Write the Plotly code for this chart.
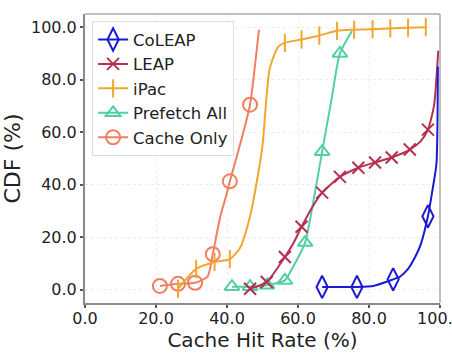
import plotly.graph_objects as go

# ---- data ----
coleap_x = [66.8, 71.5, 76.6, 81.5, 86.8, 88.7, 91.0, 93.0, 94.5, 96.6, 98.0, 99.0, 99.4]
coleap_y = [1.1, 1.1, 1.1, 1.6, 4.0, 5.0, 8.0, 12.5, 17.0, 28.0, 39.0, 48.0, 85.0]
coleap_mx = [66.8, 76.6, 86.8, 96.6]
coleap_my = [1.1, 1.1, 4.0, 28.0]

leap_x = [46.5, 51.2, 56.3, 58.8, 61.0, 63.8, 66.8, 71.8, 77.0, 81.7, 86.4, 91.5, 94.5, 96.6, 98.3, 99.5]
leap_y = [0.4, 3.0, 12.5, 18.0, 24.0, 31.0, 37.0, 43.0, 46.5, 48.5, 50.4, 53.4, 56.5, 61.0, 70.0, 91.0]
leap_mx = [46.5, 51.2, 56.3, 61.0, 66.8, 71.8, 77.0, 81.7, 86.4, 91.5, 96.6]
leap_my = [0.4, 3.0, 12.5, 24.0, 37.0, 43.0, 46.5, 48.5, 50.4, 53.4, 61.0]

ipac_x = [26.2, 31.3, 36.5, 40.8, 43.7, 46.5, 48.5, 50.0, 52.0, 54.4, 56.3, 61.0, 66.0, 71.0, 75.8, 81.0, 86.0, 91.0, 96.0]
ipac_y = [0.4, 8.0, 10.6, 11.7, 16.0, 28.0, 42.0, 55.0, 84.0, 92.5, 94.0, 95.3, 96.8, 98.6, 99.0, 99.2, 99.5, 99.8, 100.0]
ipac_mx = [26.2, 31.3, 36.5, 40.8, 56.3, 61.0, 66.0, 71.0, 75.8, 81.0, 86.0, 91.0, 96.0]
ipac_my = [0.4, 8.0, 10.6, 11.7, 94.0, 95.3, 96.8, 98.6, 99.0, 99.2, 99.5, 99.8, 100.0]

pref_x = [41.4, 46.5, 51.3, 56.3, 58.5, 62.0, 64.5, 66.8, 69.5, 71.8, 75.2]
pref_y = [1.2, 1.2, 1.8, 3.6, 8.5, 18.0, 35.0, 52.6, 73.0, 90.0, 98.5]
pref_mx = [41.4, 46.5, 51.3, 56.3, 62.0, 66.8, 71.8]
pref_my = [1.2, 1.2, 1.8, 3.6, 18.0, 52.6, 90.0]

cache_x = [21.1, 26.2, 31.0, 34.5, 36.0, 37.2, 38.3, 39.4, 40.8, 43.0, 45.0, 46.5, 49.0]
cache_y = [1.5, 2.3, 2.7, 5.0, 13.6, 22.0, 29.0, 34.0, 41.3, 52.0, 62.0, 70.5, 99.0]
cache_mx = [21.1, 26.2, 31.0, 36.0, 40.8, 46.5]
cache_my = [1.5, 2.3, 2.7, 13.6, 41.3, 70.5]

tick_vals = [0, 20, 40, 60, 80, 100]
tick_text = ["0.0", "20.0", "40.0", "60.0", "80.0", "100.0"]

series = [
    ("CoLEAP", coleap_x, coleap_y, coleap_mx, coleap_my, "#1a1ad2", "diamond-tall-open", 16),
    ("LEAP", leap_x, leap_y, leap_mx, leap_my, "#b5314f", "x-thin-open", 12),
    ("iPac", ipac_x, ipac_y, ipac_mx, ipac_my, "#f2a630", "line-ns-open", 13),
    ("Prefetch All", pref_x, pref_y, pref_mx, pref_my, "#52cfa3", "triangle-up-open", 13),
    ("Cache Only", cache_x, cache_y, cache_mx, cache_my, "#ef7f5f", "circle-open", 14),
]

FONT = "DejaVu Sans"
fig = go.Figure()
for name, lx, ly, mx, my, col, sym, sz in reversed(series):
    fig.add_trace(go.Scatter(x=lx, y=ly, mode="lines", line=dict(color=col, width=2, shape="spline", smoothing=0.6),
                             showlegend=False, legendgroup=name, hoverinfo="skip"))
    fig.add_trace(go.Scatter(x=mx, y=my, mode="markers",
                             marker=dict(symbol=sym, size=sz, color=col, line=dict(color=col, width=2)),
                             showlegend=False, legendgroup=name))
for name, lx, ly, mx, my, col, sym, sz in series:
    fig.add_trace(go.Scatter(x=[None], y=[None], mode="lines+markers", name=name, legendgroup=name,
                             line=dict(color=col, width=2),
                             marker=dict(symbol=sym, size=sz, color=col, line=dict(color=col, width=2))))

axis_common = dict(showline=True, linecolor="#8a8a8a", linewidth=2, ticks="outside", ticklen=3,
                   tickcolor="#555", tickwidth=1.5, showgrid=True, gridcolor="#ececec", griddash="dot",
                   gridwidth=1, zeroline=False, tickfont=dict(family=FONT, size=16, color="#222"),
                   tickvals=tick_vals, ticktext=tick_text, ticklabeloverflow="allow", automargin=False)
fig.update_layout(
    width=452, height=354,
    margin=dict(l=85, r=12, t=14, b=51),
    paper_bgcolor="white", plot_bgcolor="white",
    font=dict(family=FONT, color="#222"),
    xaxis=dict(range=[0, 100], title=dict(text="Cache Hit Rate (%)", font=dict(size=20), standoff=2),
               ticklabelstandoff=-3, **axis_common),
    yaxis=dict(range=[-5, 105], title=dict(text="CDF (%)", font=dict(size=22), standoff=4), **axis_common),
    legend=dict(x=0.02, y=0.975, xanchor="left", yanchor="top", bgcolor="white", bordercolor="#dddddd",
                borderwidth=1, font=dict(family=FONT, size=16.5, color="#222"), itemwidth=30, tracegroupgap=0),
    shapes=[dict(type="line", xref="paper", yref="paper", x0=0, x1=1, y0=1, y1=1, line=dict(color="#aaaaaa", width=1.5)),
            dict(type="line", xref="paper", yref="paper", x0=1, x1=1, y0=0, y1=1, line=dict(color="#aaaaaa", width=1.5))],
)
fig.write_html("out.html")
